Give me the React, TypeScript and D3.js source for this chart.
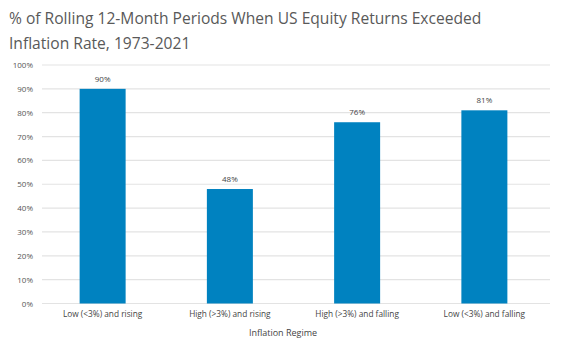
import React from "react";
import * as d3 from "d3";

const categories = [
  "Low (<3%) and rising",
  "High (>3%) and rising",
  "High (>3%) and falling",
  "Low (<3%) and falling",
];
const values = [90, 48, 76, 81];
const yTicks = [0, 10, 20, 30, 40, 50, 60, 70, 80, 90, 100];
const titleLines = [
  "% of Rolling 12-Month Periods When US Equity Returns Exceeded",
  "Inflation Rate, 1973-2021",
];
const xAxisTitle = "Inflation Regime";

export default function App() {
  const W = 569;
  const H = 361;
  const x = d3.scaleBand<string>().domain(categories).range([39, 548]).paddingInner(0.64).paddingOuter(0.32);
  const y = d3.scaleLinear().domain([0, 100]).range([303.5, 65]);
  const bw = 46;
  const font = "'Open Sans', 'Liberation Sans', sans-serif";
  return (
    <svg width={W} height={H} style={{ position: "absolute", left: 0, top: 0, background: "#fff" }}>
      {titleLines.map((t, i) => (
        <text key={i} x={9} y={24 + i * 24.5} fontFamily={font} fontSize={15.6} fill="#595959">
          {t}
        </text>
      ))}
      {yTicks.map((t) => (
        <g key={t}>
          <line x1={42} x2={550} y1={y(t)} y2={y(t)} stroke="#e3e3e3" strokeWidth={1.2} />
          <text x={33} y={y(t) + 3} textAnchor="end" fontFamily={font} fontSize={8} fill="#555">
            {t}%
          </text>
        </g>
      ))}
      {categories.map((c, i) => {
        const cx = (x(c) as number) + x.bandwidth() / 2;
        return (
          <g key={c}>
            <rect x={cx - bw / 2} y={y(values[i])} width={bw} height={y(0) - y(values[i])} fill="#0082C0" />
            <text x={cx} y={y(values[i]) - 7} textAnchor="middle" fontFamily={font} fontSize={8} fill="#444">
              {values[i]}%
            </text>
            <text x={cx} y={317} textAnchor="middle" fontFamily={font} fontSize={8.3} fill="#444">
              {c}
            </text>
          </g>
        );
      })}
      <text x={283} y={336} textAnchor="middle" fontFamily={font} fontSize={9} fill="#444">
        {xAxisTitle}
      </text>
    </svg>
  );
}
